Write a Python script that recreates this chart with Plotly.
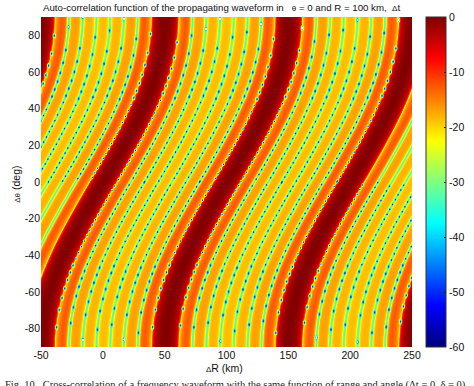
import numpy as np
import plotly.graph_objects as go

# The stripe field is rebuilt from values: ridge position per angle,
# one lobe profile per offset from a ridge, and where the deep-null dots sit on each line.
theta_table = [-90,-85,-80,-75,-70,-65,-60,-55,-50,-45,-40,-35,-30,-25,-20,-15,-10,-5,0,
               5,10,15,20,25,30,35,40,45,50,55,60,65,70,75,80,85,90]
ridge_shift_km = [-50,-49.8,-49.2,-48.3,-47,-45.3,-43.3,-41,-38.3,-35.4,-32.1,-28.7,-25,-21.1,-17.1,-12.9,-8.7,-4.4,0,
                  4.4,8.7,12.9,17.1,21.1,25,28.7,32.1,35.4,38.3,41,43.3,45.3,47,48.3,49.2,49.8,50]
profile_offset_km = [0,3,5,7.5,9.2,10,10.6,11.11,12,13.5,16.67,19.3,20.4,21.1,21.7,22.22,22.7,23.3,24,25.2,27.78,
                     30.3,31.5,32.2,32.8,33.33,33.9,34.5,35.2,36.3,38.89,41.3,42.6,43.3,43.9,44.44,45,45.6,46.3,47.5,50]
profile_db = [0,-0.5,-1.2,-2.8,-5,-8,-13,-23,-18,-14.5,-12.5,-14,-18,-23,-31,-34,-31,-23,-18.5,-17.3,-16.8,
              -17.5,-20,-24,-31,-34,-31,-24,-20,-18.3,-18,-18.5,-20.5,-24,-31,-34,-31,-24,-20.5,-19,-18.5]
top_dot_theta_deg = [[79.6,84.2,89.6,78.7,82.3,88.7,77.8,80.5],
                     [76,79.6,83.3,88.7,78.7,81.5,86,77.8],
                     [83.6,76.4,80,82.6,88,79,81,88]]
bottom_dot_theta_deg = [[-79,-76.7,-85.7,-80.3,-77.6,-85.7,-82,-78.9],
                        [-78,-79,-76.5,-86.5,-81,-77.6,-75.6,-82],
                        [-76.5,-84.6,-80.3,-77.6,-87,-82,-78.9,-75.9]]
dot_sine_step = 0.045
x_ticks = [-50,0,50,100,150,200,250]
y_ticks = [-80,-60,-40,-20,0,20,40,60,80]
cbar_ticks = [0,-10,-20,-30,-40,-50,-60]
jet_stops = ["#00007f","#0000ff","#007fff","#00ffff","#7fff7f","#ffff00","#ff7f00","#ff0000","#7f0000"]

nx, ny = 372, 332
x = np.linspace(-50, 250, nx)
y = np.linspace(-90, 90, ny)
off_full = np.array(profile_offset_km + [100 - o for o in profile_offset_km[-2::-1]])
db_full = np.array(profile_db + profile_db[-2::-1])
X, Y = np.meshgrid(x, y)
S = np.interp(Y, theta_table, ridge_shift_km)
z = np.interp(np.mod(X - S, 100.0), off_full, db_full)

dx = x[1] - x[0]
dy = y[1] - y[0]
nan_mask = np.zeros_like(z, dtype=bool)


def stamp(cx, th):
    if not -55 < cx < 255:
        return
    mid = abs(th) < 45
    depth = -52 if mid else -50
    sx, sy = (0.6, 0.75) if mid else (0.85, 1.25)
    ix = int(round((cx + 50) / dx)); iy = int(round((th + 90) / dy))
    for j in range(max(iy - 5, 0), min(iy + 6, ny)):
        for i in range(max(ix - 4, 0), min(ix + 5, nx)):
            r2 = ((x[i] - cx) / dx / sx) ** 2 + ((y[j] - th) / dy / sy) ** 2
            val = depth + (z[j, i] - depth) * (1 - np.exp(-r2 / 2))
            z[j, i] = min(z[j, i], val)
            if abs(th) > 83 and r2 < 1.0:
                nan_mask[j, i] = True


for table, base0, sign in ((top_dot_theta_deg, -100, 1), (bottom_dot_theta_deg, 0, -1)):
    for m, row in enumerate(table):
        base = base0 + 100 * m
        for k, t0 in enumerate(row, start=1):
            s = abs(np.sin(np.radians(t0)))
            while s > 0:
                th = sign * np.degrees(np.arcsin(s))
                stamp(base + 11.11 * k + np.interp(th, theta_table, ridge_shift_km), th)
                s -= dot_sine_step

z = np.round(z, 1)
z = z.astype(object)
z[nan_mask] = None

fig = go.Figure(go.Heatmap(
    x=np.round(x, 3), y=np.round(y, 3), z=z.tolist(), zmin=-60, zmax=0, zsmooth=False,
    colorscale=[[i / 8, c] for i, c in enumerate(jet_stops)], hoverongaps=False,
    colorbar=dict(x=(426 - 40.5) / 371.5, xanchor="left", xpad=0, ypad=0, y=0.5, yanchor="middle",
                  len=1.0, lenmode="fraction", thickness=20, thicknessmode="pixels",
                  outlinecolor="#333", outlinewidth=1, ticks="inside", ticklen=2, tickcolor="#222",
                  tickmode="array", tickvals=cbar_ticks, ticktext=[str(t) for t in cbar_ticks],
                  tickfont=dict(family="Liberation Sans", size=10.5, color="#111"))))

fig.update_layout(
    width=474, height=386, autosize=False, paper_bgcolor="white", plot_bgcolor="white",
    margin=dict(l=40.5, r=62, t=16.6, b=39, autoexpand=False), showlegend=False,
    xaxis=dict(range=[-50, 250], tickmode="array", tickvals=x_ticks, ticktext=[str(t) for t in x_ticks],
               ticks="", showgrid=False, zeroline=False, showline=False,
               tickfont=dict(family="Liberation Sans", size=10.5, color="#111")),
    yaxis=dict(range=[-90, 90], tickmode="array", tickvals=y_ticks, ticktext=[str(t) for t in y_ticks],
               ticks="", showgrid=False, zeroline=False, showline=False,
               tickfont=dict(family="Liberation Sans", size=10.5, color="#111")),
    annotations=[
        dict(text="Auto-correlation function of the propagating waveform in&nbsp;&nbsp;&nbsp;"
                  "<span style='font-size:8px'>θ</span> = 0 and R = 100 km,&nbsp;&nbsp;<span style='font-size:8px'>Δ</span>t",
             xref="paper", yref="paper", x=0, y=1 + 10 / 330.4, xanchor="left", yanchor="middle",
             showarrow=False, font=dict(family="Liberation Sans", size=9.7, color="#111")),
        dict(text="<span style='font-size:8px'>Δ</span>R (km)", xref="paper", yref="paper",
             x=(224 - 40.5) / 371.5, y=(347 - 368) / 330.4, xanchor="center", yanchor="middle",
             showarrow=False, font=dict(family="Liberation Sans", size=10.5, color="#111")),
        dict(text="<span style='font-size:8px'>Δθ</span> (deg)", xref="paper", yref="paper",
             x=(16 - 40.5) / 371.5, y=(347 - 184) / 330.4, xanchor="center", yanchor="middle", textangle=-90,
             showarrow=False, font=dict(family="Liberation Sans", size=10.5, color="#111")),
        dict(text="Fig. 10.  Cross-correlation of a frequency waveform with the same function of range and angle (Δt = 0, δ = 0)",
             xref="paper", yref="paper", x=(2 - 40.5) / 371.5, y=(347 - 385) / 330.4, xanchor="left", yanchor="middle",
             showarrow=False, font=dict(family="Liberation Serif", size=10.5, color="#222")),
    ])

fig.write_html("out.html", config=dict(displayModeBar=False),
               post_script="document.body.style.margin='0';document.body.style.overflow='hidden';")
